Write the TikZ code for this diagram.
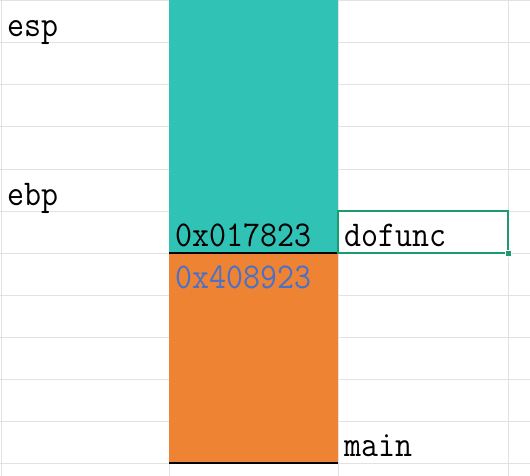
\documentclass[tikz,border=0pt]{standalone}
\usepackage{fontspec}
\definecolor{gridgray}{HTML}{E2E2E2}
\definecolor{tealfill}{HTML}{30C2B4}
\definecolor{orangefill}{HTML}{EE8433}
\definecolor{selgreen}{HTML}{1E9B6E}
\definecolor{bluetext}{HTML}{4A70C8}
\tikzset{
  cell/.style={anchor=base west, inner sep=0pt, font=\ttfamily\fontsize{33}{34}\selectfont, yscale=1.1},
  gridline/.style={draw=gridgray, line width=1pt},
}
\begin{document}
\begin{tikzpicture}[x=1pt,y=-1pt]
\useasboundingbox (0,0) rectangle (530,476);
\fill[white] (0,0) rectangle (530,476);
% grid
\foreach \r in {0,...,11} {
  \draw[gridline] (0,{1+42*\r}) -- (530,{1+42*\r});
}
\foreach \c in {1,169,338,508} {
  \draw[gridline] (\c,0) -- (\c,476);
}
% filled blocks
\fill[tealfill] (169,0) rectangle (338,253);
\fill[orangefill] (169,253) rectangle (338,463);
\draw[black, line width=1.2pt] (169,253) -- (338,253);
\draw[black, line width=1.2pt] (169,463) -- (338,463);
% selection
\draw[selgreen, line width=2pt] (338,211) rectangle (508,253);
\fill[selgreen, draw=white, line width=0.8pt] (505,250) rectangle (511,256);
% texts
\node[cell] (esp) at (7,37) {esp};
\node[cell] (ebp) at (7,205) {ebp};
\node[cell] (a1) at (175,246.5) {0x017823};
\node[cell, text=bluetext] (a2) at (175,288.5) {0x408923};
\node[cell] (dofunc) at (344,246.5) {dofunc};
\node[cell] (main) at (344,456.5) {main};
\end{tikzpicture}
\end{document}
